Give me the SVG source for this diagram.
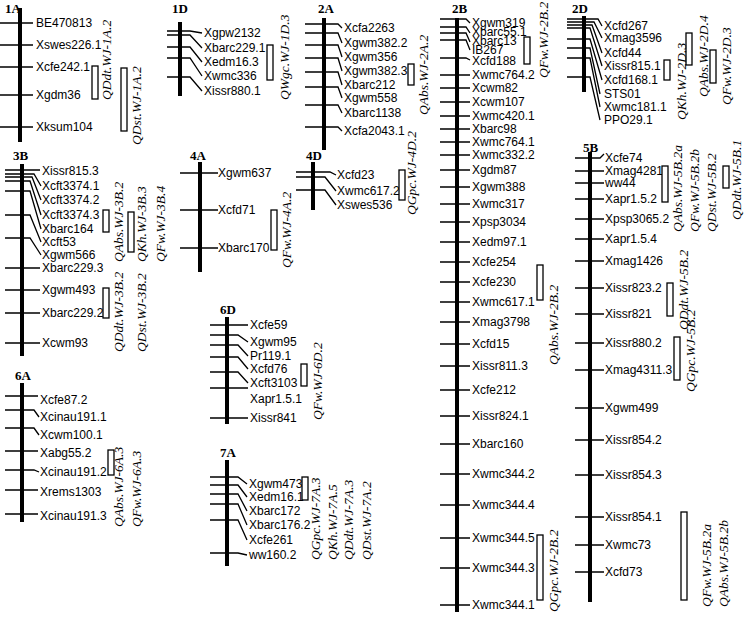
<svg xmlns="http://www.w3.org/2000/svg" width="746" height="618" viewBox="0 0 746 618">
<style>
.b{stroke:#000;stroke-width:4}
.t path,.t line{stroke:#000;stroke-width:1.3;fill:none}
.l{font-family:"Liberation Sans",Arial,sans-serif;font-size:12px;fill:#000}
.h{font-family:"Liberation Serif",serif;font-size:13px;font-weight:bold;fill:#000}
.q{font-family:"Liberation Serif",serif;font-size:13.5px;font-style:italic;fill:#000}
.x{fill:#fff;stroke:#000;stroke-width:1.3}
</style>
<rect width="746" height="618" fill="#fff"/>
<g id="connectors" class="t">
<path d="M0 23H33M0 45H33M0 67H33M0 95H33M0 127H33"/>
<path d="M167 31H190L202 33M167 35H190L202 48M167 47H190L202 62M167 58H190L202 76M167 77H190L202 91"/>
<path d="M305 24H338L342 28M305 33H338L342 43M305 45H338L342 57M305 58H338L342 71M305 72H338L342 85M305 87H338L342 98M305 105H338L342 113M305 127H338L342 131"/>
<path d="M440 19H466L470 23M440 27H466L470 33M440 33H466L470 42M440 40H466L470 50M440 58H466L470 60M440 75H470M440 88H470M440 102H470M440 116H470M440 129H470M440 142H470M440 155H470M440 170H470M440 187H470M440 204H470M440 222H470M440 242H470M440 262H470M440 282H470M440 302H470M440 322H470M440 344H470M440 366H470M440 390H470M440 416H470M440 444H470M440 474H470M440 505H470M440 538H470M440 568H470M440 605H470"/>
<path d="M567 19H598L602 26M567 22H594L602 38M567 25H592L602 53M567 28H590L602 66M567 39H590L602 80M567 48H590L600 94M567 58H590L600 107M567 77H590L600 120"/>
<path d="M5 170H40M5 174H34L41 186M5 177H32L41 200M5 181H30L41 215M5 191H30L41 229M5 215H30L41 242M5 238H30L41 255M5 268H40M5 290H40M5 313H40M5 343H40"/>
<path d="M180 173H218M180 210H218M180 248H218"/>
<path d="M296 172H330L336 175M296 177H325L336 191M296 190H325L336 205"/>
<path d="M575 158H600L604 154M575 171H604M575 183H604M575 199H604M575 219H604M575 239H604M575 261H604M575 288H604M575 314H604M575 343H604M575 370H604M575 408H604M575 440H604M575 475H604M575 517H604M575 545H604M575 572H604"/>
<path d="M5 396H38M5 410H34L39 417M5 428H34L39 435M5 451H38M5 470H34L39 472M5 490H38M5 514H38"/>
<path d="M210 325H248M210 335H238L248 342M210 345H238L248 356M210 357H238L248 369M210 372H238L248 383M210 388H248M210 418H248"/>
<path d="M210 477H238L247 484M210 485H238L247 497M210 494H238L247 511M210 504H238L247 525M210 520H238L247 540M210 553H238L247 555"/>
</g>
<g id="c1A"><text class="h" x="5" y="13">1A</text><line class="b" x1="20" y1="8" x2="20" y2="142"/>
<text class="l" x="36" y="27">BE470813</text><text class="l" x="36" y="49">Xswes226.1</text><text class="l" x="36" y="71">Xcfe242.1</text><text class="l" x="36" y="99">Xgdm36</text><text class="l" x="36" y="131">Xksum104</text>
<rect class="x" x="92" y="66" width="6" height="33"/><rect class="x" x="121" y="68" width="6" height="63"/>
<text class="q" transform="translate(111,100) rotate(-90)">QDdt.WJ-1A.2</text><text class="q" transform="translate(141,145) rotate(-90)">QDst.WJ-1A.2</text></g>
<g id="c1D"><text class="h" x="172" y="13">1D</text><line class="b" x1="180" y1="22" x2="180" y2="96"/>
<text class="l" x="204" y="37">Xgpw2132</text><text class="l" x="204" y="52">Xbarc229.1</text><text class="l" x="204" y="66">Xedm16.3</text><text class="l" x="204" y="80">Xwmc336</text><text class="l" x="204" y="95">Xissr880.1</text>
<rect class="x" x="267" y="45" width="6" height="35"/>
<text class="q" transform="translate(289,100) rotate(-90)">QWgc.WJ-1D.3</text></g>
<g id="c2A"><text class="h" x="318" y="13">2A</text><line class="b" x1="324" y1="18" x2="324" y2="150"/>
<text class="l" x="344" y="32">Xcfa2263</text><text class="l" x="344" y="47">Xgwm382.2</text><text class="l" x="344" y="61">Xgwm356</text><text class="l" x="344" y="75">Xgwm382.3</text><text class="l" x="344" y="89">Xbarc212</text><text class="l" x="344" y="102">Xgwm558</text><text class="l" x="344" y="117">Xbarc1138</text><text class="l" x="344" y="135">Xcfa2043.1</text>
<rect class="x" x="408" y="64" width="6" height="21"/>
<text class="q" transform="translate(428,115) rotate(-90)">QAbs.WJ-2A.2</text></g>
<g id="c2B"><text class="h" x="452" y="13">2B</text><line class="b" x1="457" y1="18" x2="457" y2="612"/>
<g class="l"><text x="472" y="27">Xgwm319</text><text x="472" y="36">Xbarc55.1</text><text x="472" y="45">Xbarc13</text><text x="472" y="54">IB267</text><text x="472" y="65">Xcfd188</text><text x="472" y="79">Xwmc764.2</text><text x="472" y="92">Xcwm82</text><text x="472" y="106">Xcwm107</text><text x="472" y="120">Xwmc420.1</text><text x="472" y="133">Xbarc98</text><text x="472" y="146">Xwmc764.1</text><text x="472" y="159">Xwmc332.2</text><text x="472" y="174">Xgdm87</text><text x="472" y="191">Xgwm388</text><text x="472" y="208">Xwmc317</text><text x="472" y="226">Xpsp3034</text><text x="472" y="246">Xedm97.1</text><text x="472" y="266">Xcfe254</text><text x="472" y="286">Xcfe230</text><text x="472" y="306">Xwmc617.1</text><text x="472" y="326">Xmag3798</text><text x="472" y="348">Xcfd15</text><text x="472" y="370">Xissr811.3</text><text x="472" y="394">Xcfe212</text><text x="472" y="420">Xissr824.1</text><text x="472" y="448">Xbarc160</text><text x="472" y="478">Xwmc344.2</text><text x="472" y="509">Xwmc344.4</text><text x="472" y="542">Xwmc344.5</text><text x="472" y="572">Xwmc344.3</text><text x="472" y="609">Xwmc344.1</text></g>
<rect class="x" x="524" y="37" width="6" height="27"/><rect class="x" x="537" y="265" width="6" height="35"/><rect class="x" x="537" y="535" width="6" height="65"/>
<text class="q" transform="translate(548,78) rotate(-90)">QFw.WJ-2B.2</text><text class="q" transform="translate(558,365) rotate(-90)">QAbs.WJ-2B.2</text><text class="q" transform="translate(558,612) rotate(-90)">QGpc.WJ-2B.2</text></g>
<g id="c2D"><text class="h" x="572" y="13">2D</text><line class="b" x1="584" y1="16" x2="584" y2="92"/>
<g class="l"><text x="604" y="30">Xcfd267</text><text x="604" y="42">Xmag3596</text><text x="604" y="57">Xcfd44</text><text x="604" y="70">Xissr815.1</text><text x="604" y="84">Xcfd168.1</text><text x="604" y="98">STS01</text><text x="604" y="111">Xwmc181.1</text><text x="604" y="124">PPO29.1</text></g>
<rect class="x" x="664" y="60" width="6" height="20"/><rect class="x" x="686" y="33" width="6" height="32"/><rect class="x" x="710" y="50" width="6" height="33"/>
<text class="q" transform="translate(686,120) rotate(-90)">QKh.WJ-2D.3</text><text class="q" transform="translate(708,97) rotate(-90)">QAbs.WJ-2D.4</text><text class="q" transform="translate(731,105) rotate(-90)">QFw.WJ-2D.3</text></g>
<g id="c3B"><text class="h" x="13" y="160">3B</text><line class="b" x1="22" y1="164" x2="22" y2="356"/>
<g class="l"><text x="42" y="175">Xissr815.3</text><text x="42" y="190">Xcft3374.1</text><text x="42" y="204">Xcft3374.2</text><text x="42" y="219">Xcft3374.3</text><text x="42" y="233">Xbarc164</text><text x="42" y="246">Xcft53</text><text x="42" y="259">Xgwm566</text><text x="42" y="272">Xbarc229.3</text><text x="42" y="294">Xgwm493</text><text x="42" y="317">Xbarc229.2</text><text x="42" y="347">Xcwm93</text></g>
<rect class="x" x="103" y="210" width="6" height="22"/><rect class="x" x="128" y="212" width="6" height="40"/><rect class="x" x="103" y="288" width="6" height="30"/>
<text class="q" transform="translate(123,262) rotate(-90)">QAbs.WJ-3B.2</text><text class="q" transform="translate(146,262) rotate(-90)">QKh.WJ-3B.3</text><text class="q" transform="translate(165,262) rotate(-90)">QFw.WJ-3B.4</text>
<text class="q" transform="translate(123,352) rotate(-90)">QDdt.WJ-3B.2</text><text class="q" transform="translate(146,352) rotate(-90)">QDst.WJ-3B.2</text></g>
<g id="c4A"><text class="h" x="190" y="160">4A</text><line class="b" x1="200" y1="162" x2="200" y2="272"/>
<text class="l" x="218" y="177">Xgwm637</text><text class="l" x="218" y="214">Xcfd71</text><text class="l" x="218" y="252">Xbarc170</text>
<rect class="x" x="271" y="210" width="6" height="40"/>
<text class="q" transform="translate(291,268) rotate(-90)">QFw.WJ-4A.2</text></g>
<g id="c4D"><text class="h" x="306" y="160">4D</text><line class="b" x1="313" y1="162" x2="313" y2="210"/>
<text class="l" x="337" y="179">Xcfd23</text><text class="l" x="337" y="195">Xwmc617.2</text><text class="l" x="337" y="209">Xswes536</text>
<rect class="x" x="399" y="170" width="6" height="30"/>
<text class="q" transform="translate(416,215) rotate(-90)">QGpc.WJ-4D.2</text></g>
<g id="c5B"><text class="h" x="583" y="152">5B</text><line class="b" x1="590" y1="152" x2="590" y2="602"/>
<g class="l"><text x="605" y="162">Xcfe74</text><text x="605" y="175">Xmag4281</text><text x="605" y="187">ww44</text><text x="605" y="203">Xapr1.5.2</text><text x="605" y="223">Xpsp3065.2</text><text x="605" y="243">Xapr1.5.4</text><text x="605" y="265">Xmag1426</text><text x="605" y="292">Xissr823.2</text><text x="605" y="318">Xissr821</text><text x="605" y="347">Xissr880.2</text><text x="605" y="374">Xmag4311.3</text><text x="605" y="412">Xgwm499</text><text x="605" y="444">Xissr854.2</text><text x="605" y="479">Xissr854.3</text><text x="605" y="521">Xissr854.1</text><text x="605" y="549">Xwmc73</text><text x="605" y="576">Xcfd73</text></g>
<rect class="x" x="662" y="166" width="6" height="36"/><rect class="x" x="723" y="166" width="6" height="22"/><rect class="x" x="667" y="283" width="6" height="33"/><rect class="x" x="674" y="337" width="6" height="43"/><rect class="x" x="681" y="512" width="6" height="88"/>
<text class="q" transform="translate(682,232) rotate(-90)">QAbs.WJ-5B.2a</text><text class="q" transform="translate(699,232) rotate(-90)">QFw.WJ-5B.2b</text><text class="q" transform="translate(716,232) rotate(-90)">QDst.WJ-5B.2</text><text class="q" transform="translate(741,220) rotate(-90)">QDdt.WJ-5B.1</text>
<text class="q" transform="translate(688,330) rotate(-90)">QDdt.WJ-5B.2</text><text class="q" transform="translate(695,392) rotate(-90)">QGpc.WJ-5B.2</text>
<text class="q" transform="translate(711,607) rotate(-90)">QFw.WJ-5B.2a</text><text class="q" transform="translate(728,607) rotate(-90)">QAbs.WJ-5B.2b</text></g>
<g id="c6A"><text class="h" x="15" y="380">6A</text><line class="b" x1="22" y1="383" x2="22" y2="522"/>
<g class="l"><text x="40" y="404">Xcfe87.2</text><text x="40" y="421">Xcinau191.1</text><text x="40" y="439">Xcwm100.1</text><text x="40" y="457">Xabg55.2</text><text x="40" y="476">Xcinau191.2</text><text x="40" y="496">Xrems1303</text><text x="40" y="520">Xcinau191.3</text></g>
<rect class="x" x="108" y="450" width="6" height="25"/>
<text class="q" transform="translate(123,527) rotate(-90)">QAbs.WJ-6A.3</text><text class="q" transform="translate(141,527) rotate(-90)">QFw.WJ-6A.3</text></g>
<g id="c6D"><text class="h" x="220" y="314">6D</text><line class="b" x1="227" y1="317" x2="227" y2="424"/>
<g class="l"><text x="250" y="329">Xcfe59</text><text x="250" y="346">Xgwm95</text><text x="250" y="360">Pr119.1</text><text x="250" y="373">Xcfd76</text><text x="250" y="387">Xcft3103</text><text x="250" y="403">Xapr1.5.1</text><text x="250" y="422">Xissr841</text></g>
<rect class="x" x="301" y="364" width="6" height="22"/>
<text class="q" transform="translate(322,420) rotate(-90)">QFw.WJ-6D.2</text></g>
<g id="c7A"><text class="h" x="220" y="457">7A</text><line class="b" x1="227" y1="460" x2="227" y2="566"/>
<g class="l"><text x="249" y="488">Xgwm473</text><text x="249" y="501">Xedm16.1</text><text x="249" y="515">Xbarc172</text><text x="249" y="529">Xbarc176.2</text><text x="249" y="544">Xcfe261</text><text x="249" y="559">ww160.2</text></g>
<rect class="x" x="302" y="477" width="6" height="23"/>
<text class="q" transform="translate(320,560) rotate(-90)">QGpc.WJ-7A.3</text><text class="q" transform="translate(337,560) rotate(-90)">QKh.WJ-7A.5</text><text class="q" transform="translate(353,560) rotate(-90)">QDdt.WJ-7A.3</text><text class="q" transform="translate(371,560) rotate(-90)">QDst.WJ-7A.2</text></g>
</svg>
